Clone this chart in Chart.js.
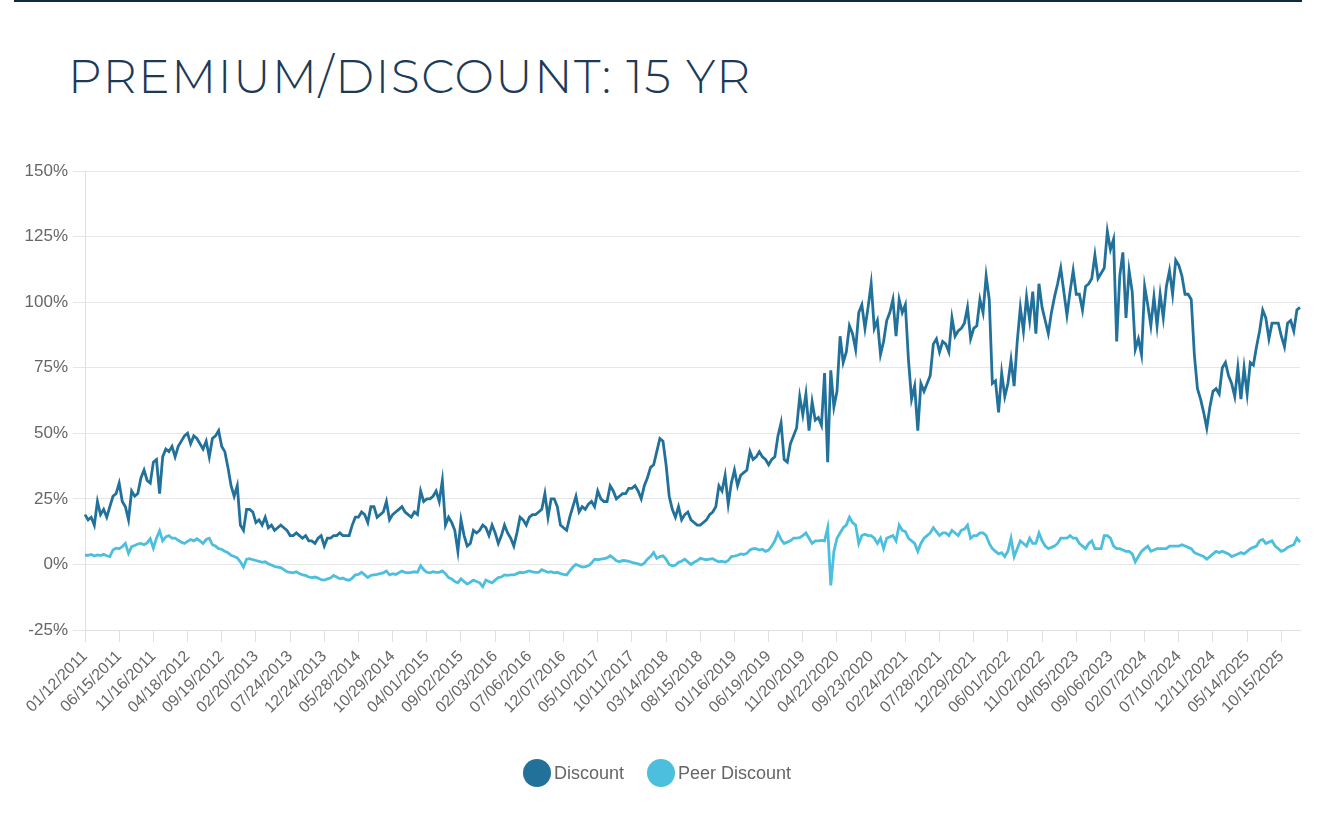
<!DOCTYPE html>
<html>
<head>
<meta charset="utf-8">
<script src="https://cdn.jsdelivr.net/npm/chart.js@4.4.1/dist/chart.umd.min.js"></script>
<style>
body { margin: 0; background: #fff; width: 1334px; height: 837px; position: relative; overflow: hidden; font-family: "Liberation Sans", Arial, sans-serif; }
#topRule { position: absolute; left: 14px; top: 0; width: 1288px; height: 2px; background: #0c2b44; }
#title { position: absolute; left: 68px; top: 53px; margin: 0; font-family: Montserrat, Lato, "Open Sans", sans-serif; font-weight: 300; font-size: 47px; line-height: 47px; color: #1d3a57; white-space: nowrap; }
#chartWrap { position: absolute; left: 0; top: 0; width: 1334px; height: 837px; }
#legend { position: absolute; top: 759px; left: 523px; display: flex; align-items: center; height: 28px; font-size: 18px; color: #666; }
.item { display: flex; align-items: center; margin-right: 23px; }
.dot { width: 28px; height: 28px; border-radius: 50%; margin-right: 3px; }
</style>
</head>
<body>
<div id="topRule"></div>
<h1 id="title"><span id="titleText">PREMIUM/DISCOUNT: 15 YR</span></h1>
<div id="chartWrap"><canvas id="chart" width="1334" height="837"></canvas></div>
<div id="legend"></div>
<script>
// series, every second week starting 01/12/2011
const seriesNames = ['Discount', 'Peer Discount'];
const seriesColors = ['#21719b', '#4cbfde'];

const discount = [
  19, 17, 18, 15, 24, 19, 21, 18, 22, 26, 27,
  31, 24, 22, 17, 28, 26, 27, 33, 36, 32, 31,
  39, 40, 27, 41, 44, 43, 45, 41, 45, 47, 49,
  50, 46, 49, 48, 46, 44, 47, 41, 48, 49, 51,
  45, 43, 37, 30, 26, 30, 15, 13, 21, 21, 20,
  16, 17, 15, 18, 14, 15, 13, 14, 15, 14, 13,
  11, 11, 12, 11, 10, 11, 9, 9, 8, 10, 11,
  7, 10, 10, 11, 11, 12, 11, 11, 11, 15, 18,
  18, 20, 19, 16, 22, 22, 18, 19, 20, 24, 17,
  19, 20, 21, 22, 20, 19, 18, 20, 19, 28, 24,
  25, 25, 26, 28, 24, 32, 15, 18, 16, 13, 5,
  17, 11, 7, 8, 13, 12, 13, 15, 14, 11, 15,
  12, 8, 11, 15, 12, 10, 7, 12, 18, 17, 15,
  18, 19, 19, 20, 21, 27, 18, 25, 25, 22, 15,
  14, 13, 18, 22, 26, 20, 22, 21, 23, 24, 22,
  28, 25, 24, 24, 30, 28, 25, 26, 27, 27, 29,
  29, 30, 28, 25, 30, 33, 37, 38, 43, 48, 47,
  38, 26, 21, 18, 22, 17, 19, 20, 17, 16, 15,
  15, 16, 17, 19, 20, 22, 30, 28, 34, 23, 31,
  36, 30, 34, 35, 36, 43, 40, 41, 43, 41, 40,
  38, 40, 41, 49, 54, 40, 39, 46, 49, 52, 64,
  57, 65, 51, 62, 55, 56, 53, 73, 39, 74, 60,
  66, 87, 77, 81, 91, 88, 82, 96, 99, 90, 98,
  107, 90, 93, 80, 85, 93, 96, 101, 87, 101, 96,
  99, 78, 63, 68, 51, 69, 66, 69, 72, 84, 86,
  81, 85, 84, 81, 94, 87, 89, 90, 92, 98, 86,
  90, 91, 101, 96, 110, 101, 69, 70, 58, 73, 64,
  69, 78, 68, 85, 98, 89, 102, 93, 104, 88, 107,
  98, 93, 88, 96, 102, 107, 113, 104, 95, 104, 112,
  103, 103, 97, 106, 107, 109, 118, 109, 111, 113, 127,
  120, 124, 85, 110, 119, 94, 112, 104, 82, 86, 80,
  106, 99, 91, 102, 91, 103, 94, 106, 112, 103, 116,
  114, 110, 103, 103, 101, 80, 67, 63, 58, 52, 60,
  66, 67, 65, 75, 77, 72, 69, 64, 75, 63, 75,
  65, 77, 76, 83, 89, 97, 94, 86, 92, 92, 92,
  87, 83, 92, 93, 89, 97, 98
];

const peerDiscount = [
  3.5, 3.5, 3.8, 3.2, 3.6, 3.4, 3.9, 3.3, 3.0, 5.5, 6.2,
  6.0, 6.8, 8.0, 4.2, 6.8, 7.2, 7.8, 8.0, 7.5, 8.2, 9.8,
  6.2, 10.0, 12.8, 9.0, 10.5, 11.0, 10.0, 10.0, 9.2, 8.5, 8.0,
  8.8, 9.5, 9.0, 9.8, 9.0, 8.0, 9.5, 10.0, 7.5, 7.0, 6.0,
  5.8, 5.0, 4.5, 3.5, 3.0, 2.5, 1.0, -1.0, 2.0, 2.2, 1.8,
  1.5, 1.2, 0.8, 1.0, 0.2, -0.2, -0.8, -1.0, -1.2, -2.0, -2.8,
  -3.0, -3.2, -2.8, -3.5, -4.0, -4.2, -4.8, -5.0, -4.8, -5.2, -5.8,
  -6.0, -5.5, -5.2, -4.2, -4.8, -5.5, -5.2, -5.8, -6.0, -5.2, -4.0,
  -3.8, -3.0, -4.0, -5.0, -4.2, -4.0, -3.8, -3.5, -3.2, -2.5, -4.0,
  -3.5, -3.8, -3.2, -2.5, -3.0, -3.2, -3.0, -2.8, -3.0, -0.5, -2.0,
  -3.0, -3.2, -2.8, -3.0, -3.0, -2.5, -3.5, -5.0, -5.5, -6.5, -7.0,
  -5.5, -6.5, -7.5, -6.8, -6.0, -6.5, -7.0, -8.5, -6.0, -6.5, -7.0,
  -6.0, -5.0, -4.8, -4.0, -4.2, -4.0, -4.0, -3.5, -3.0, -3.2, -2.8,
  -2.5, -2.8, -3.0, -3.0, -2.0, -2.5, -3.0, -2.8, -3.2, -3.0, -3.5,
  -3.8, -4.0, -2.5, -1.0, 0.0, -0.5, -1.0, -0.8, -0.5, 0.5, 2.0,
  1.8, 2.0, 2.2, 2.5, 3.3, 2.5, 1.4, 1.0, 1.5, 1.4, 1.2,
  0.8, 0.5, 0.2, -0.2, 0.5, 2.0, 3.0, 4.5, 2.3, 3.0, 3.3,
  2.0, 0.0, -0.5, -0.3, 0.8, 1.2, 2.0, 1.0, 0.0, 0.8, 1.4,
  2.3, 2.0, 1.8, 2.0, 2.2, 1.5, 1.0, 1.2, 0.8, 1.5, 3.0,
  3.2, 3.5, 4.0, 3.8, 4.2, 5.5, 6.0, 6.0, 5.5, 5.8, 5.0,
  5.5, 7.0, 9.0, 12.0, 9.5, 8.0, 8.5, 9.0, 10.0, 10.0, 10.2,
  11.0, 12.0, 10.0, 8.0, 9.0, 9.0, 9.2, 9.0, 14.0, -8.0, 5.0,
  10.0, 12.0, 14.0, 15.0, 18.0, 16.0, 15.0, 8.0, 11.0, 11.5, 11.0,
  11.0, 10.0, 8.0, 10.0, 6.0, 10.0, 10.5, 11.0, 9.0, 15.0, 13.0,
  12.5, 10.0, 9.0, 8.0, 5.0, 8.0, 10.0, 11.0, 12.0, 14.0, 12.5,
  11.0, 12.0, 12.0, 11.0, 13.0, 12.0, 11.0, 13.0, 13.5, 15.0, 10.0,
  11.0, 11.0, 12.0, 12.0, 11.0, 8.0, 6.0, 5.0, 4.0, 4.5, 3.0,
  5.0, 10.0, 3.0, 6.0, 9.0, 8.0, 7.0, 10.0, 8.0, 8.0, 12.0,
  9.0, 7.0, 6.0, 6.5, 7.0, 8.0, 10.0, 10.0, 10.0, 11.0, 10.0,
  10.0, 8.0, 7.0, 6.0, 8.0, 9.0, 6.0, 6.0, 6.0, 11.0, 11.0,
  10.0, 7.0, 6.0, 6.0, 5.5, 5.0, 5.0, 4.0, 1.0, 3.0, 5.0,
  6.0, 7.0, 5.0, 5.5, 6.0, 6.0, 6.0, 6.0, 7.0, 7.0, 7.0,
  7.0, 7.5, 7.0, 6.5, 6.0, 4.5, 4.0, 3.5, 3.0, 2.0, 3.0,
  4.0, 5.0, 4.5, 5.0, 4.5, 4.0, 3.0, 3.5, 4.0, 4.5, 4.0,
  5.0, 6.0, 6.5, 7.0, 9.0, 9.5, 8.0, 8.5, 9.0, 7.0, 6.0,
  5.0, 5.5, 6.5, 7.0, 7.5, 10.0, 8.5
];

// axis labels as printed, one every 22 weeks (every 11th point)
const tickLabels = [
  '01/12/2011', '06/15/2011', '11/16/2011', '04/18/2012', '09/19/2012', '02/20/2013',
  '07/24/2013', '12/24/2013', '05/28/2014', '10/29/2014', '04/01/2015', '09/02/2015',
  '02/03/2016', '07/06/2016', '12/07/2016', '05/10/2017', '10/11/2017', '03/14/2018',
  '08/15/2018', '01/16/2019', '06/19/2019', '11/20/2019', '04/22/2020', '09/23/2020',
  '02/24/2021', '07/28/2021', '12/29/2021', '06/01/2022', '11/02/2022', '04/05/2023',
  '09/06/2023', '02/07/2024', '07/10/2024', '12/11/2024', '05/14/2025', '10/15/2025'
];
const TICK_EVERY = 11;
const yTicks = [-25, 0, 25, 50, 75, 100, 125, 150];

// category labels: one date per two weeks
const dates = [];
for (let i = 0; i < discount.length; i++) {
  const d = new Date(Date.UTC(2011, 0, 12 + i * 14));
  const mm = String(d.getUTCMonth() + 1).padStart(2, '0');
  const dd = String(d.getUTCDate()).padStart(2, '0');
  dates.push(mm + '/' + dd + '/' + d.getUTCFullYear());
}

// title: stretch letters so the line is as wide as the original
const titleText = document.getElementById('titleText');
const gap = (682 - titleText.offsetWidth) / (titleText.textContent.length - 1);
document.getElementById('title').style.letterSpacing = gap + 'px';

// legend
const legend = document.getElementById('legend');
seriesNames.forEach((name, i) => {
  const item = document.createElement('div');
  item.className = 'item';
  item.innerHTML = '<span class="dot" style="background:' + seriesColors[i] + '"></span><span>' + name + '</span>';
  legend.appendChild(item);
});

const tickFont = { family: '"Liberation Sans", Arial, sans-serif', size: 16 };

new Chart(document.getElementById('chart'), {
  type: 'line',
  data: {
    labels: dates,
    datasets: [
      { label: seriesNames[0], data: discount, borderColor: seriesColors[0], backgroundColor: seriesColors[0], borderWidth: 2.8, pointRadius: 0, tension: 0 },
      { label: seriesNames[1], data: peerDiscount, borderColor: seriesColors[1], backgroundColor: seriesColors[1], borderWidth: 2.8, pointRadius: 0, tension: 0 }
    ]
  },
  options: {
    responsive: false,
    animation: false,
    layout: { padding: { top: 171, right: 34, bottom: 87, left: 0 } },
    plugins: { legend: { display: false }, tooltip: { enabled: false } },
    scales: {
      x: {
        grid: { drawOnChartArea: false, tickLength: 12, tickColor: '#e0e0e0' },
        border: { color: '#e0e0e0' },
        ticks: {
          autoSkip: false,
          minRotation: 45,
          maxRotation: 45,
          padding: 5,
          color: '#666',
          font: tickFont,
          callback: (v, i) => (i % TICK_EVERY === 0 ? tickLabels[i / TICK_EVERY] : null)
        },
        afterFit: (s) => { s.height = 120; }
      },
      y: {
        min: yTicks[0],
        max: yTicks[yTicks.length - 1],
        afterBuildTicks: (s) => { s.ticks = yTicks.map(v => ({ value: v })); },
        grid: { color: '#e6e6e6', tickLength: 12 },
        border: { color: '#e0e0e0' },
        ticks: { color: '#666', font: { family: tickFont.family, size: 17 }, padding: 5, callback: (v) => v + '%' },
        afterFit: (s) => { s.width = 85; }
      }
    }
  }
});
</script>
</body>
</html>
